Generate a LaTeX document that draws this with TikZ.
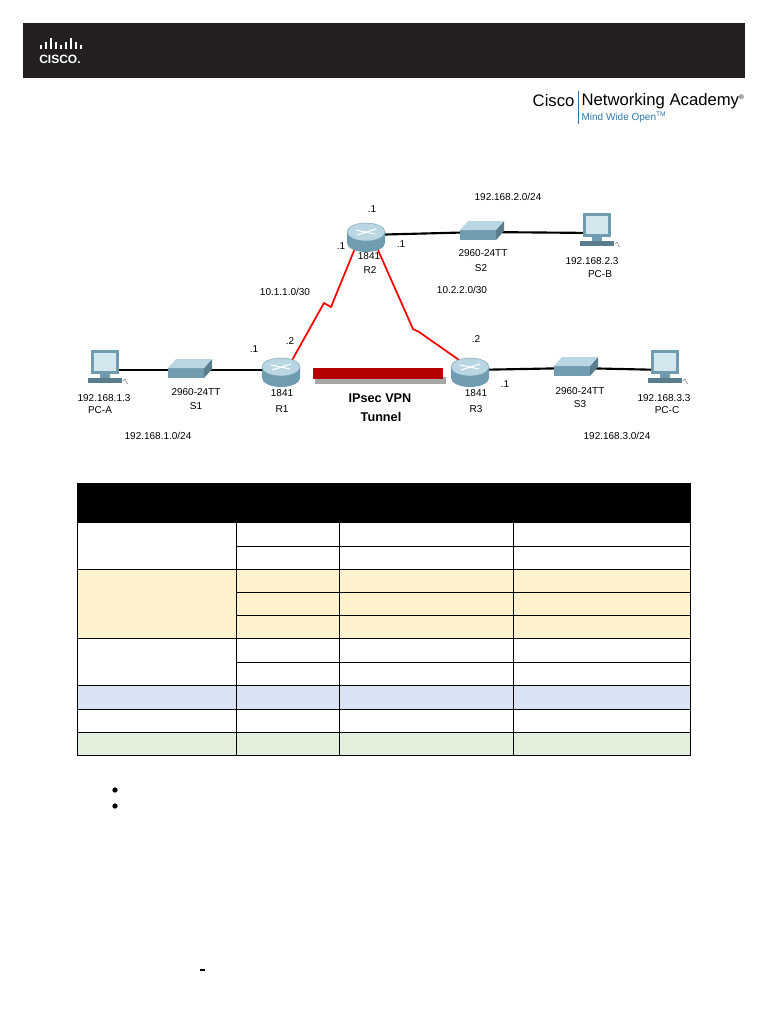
\documentclass[tikz,border=0pt]{standalone}
\usepackage{fontspec}
\setmainfont{Liberation Sans}
\usetikzlibrary{calc,shadows}
\definecolor{ylw}{HTML}{FFF2CC}
\definecolor{blu}{HTML}{DAE3F3}
\definecolor{grn}{HTML}{E2EFDA}
\definecolor{devtop}{HTML}{B9D6E2}
\definecolor{devside}{HTML}{6F9CB0}
\definecolor{vpn}{HTML}{B50000}
\definecolor{acad}{HTML}{2E75A8}
\definecolor{hdr}{HTML}{231F20}
\tikzset{
 lbl/.style={font=\fontsize{7.5}{8}\selectfont, inner sep=0.5pt},
 eth/.style={line width=1.6pt,black},
 ser/.style={line width=1.3pt,red},
 cell/.style={draw=black,line width=0.6pt},
 pics/router/.style={code={
   \fill[devside] (-19,-3) -- (-19,8) arc[start angle=180,end angle=0,x radius=19,y radius=9] -- (19,-3) -- cycle;
   \fill[devtop,draw=devside,line width=0.3pt] (0,-3) ellipse[x radius=19,y radius=9];
   \draw[white,line width=0.8pt] (-10,-5)--(9,-1) (-9,0)--(10,-6);
 }},
 pics/switch/.style={code={
   \fill[devside] (-22,-2) rectangle (14,8);
   \fill[devside!80!black] (14,-2) -- (22,-11) -- (22,-1) -- (14,8) -- cycle;
   \fill[devtop] (-22,-2) -- (-14,-11) -- (22,-11) -- (14,-2) -- cycle;
 }},
 pics/pc/.style={code={
   \fill[devside] (-14,-20) rectangle (14,4);
   \fill[devtop!60!white] (-11,-17) rectangle (11,1);
   \fill[devside] (-5,4) rectangle (5,8);
   \fill[devside!80!black] (-17,8) rectangle (17,13);
   \draw[gray] (18,11) .. controls (22,6) and (20,14) .. (23,14);
 }}
}
\begin{document}
\begin{tikzpicture}[x=0.75pt,y=-0.75pt]
\useasboundingbox (0,0) rectangle (768,1024);
% header
\fill[hdr] (23,23) rectangle (745,78);
\node[white,font=\bfseries\fontsize{9}{9}\selectfont,inner sep=0] (ciscotxt) at (60,59) {CISCO.};
\foreach \i/\h in {0/4,1/7,2/11,3/7,4/4,5/7,6/11,7/7,8/4}{\fill[white] (40+\i*5,49) rectangle ++(2,-\h);}
\node[anchor=east,font=\fontsize{12.5}{12}\selectfont,inner sep=1pt] (ciscoA) at (576,101) {Cisco};
\draw[acad,line width=0.6pt] (578,91) -- (578,124);
\node[anchor=west,font=\fontsize{12.5}{12}\selectfont,inner sep=1pt] (na) at (580,101) {Networking Academy\textsuperscript{\tiny\textregistered}};
\node[anchor=west,acad,font=\fontsize{7.5}{8}\selectfont,inner sep=1pt] (mwo) at (580,117) {Mind Wide Open\textsuperscript{\tiny TM}};
% coordinates
\coordinate (R2) at (366,235); \coordinate (R1) at (281,370); \coordinate (R3) at (470,370);
\coordinate (S2) at (482,232); \coordinate (S1) at (190,370); \coordinate (S3) at (576,368);
\coordinate (PB) at (597,233); \coordinate (PA) at (105,370); \coordinate (PC) at (665,370);
% links
\draw[eth] (R2) -- (S2) -- (PB);
\draw[eth] (PA) -- (S1) -- (R1);
\draw[eth] (R3) -- (S3) -- (PC);
\coordinate (z1) at (331,307); \coordinate (z2) at (324,303);
\draw[ser] ($(R2)+(-8,6)$) coordinate (r2a) -- (z1) -- (z2) -- ($(R1)+(10,-8)$) coordinate (r1a);
\coordinate (z3) at (419,332); \coordinate (z4) at (413,329);
\draw[ser] ($(R2)+(8,6)$) coordinate (r2b) -- (z4) -- (z3) -- ($(R3)+(-8,-8)$) coordinate (r3a);
% devices
\pic at (R2) {router}; \pic at (R1) {router}; \pic at (R3) {router};
\pic at (S2) {switch}; \pic at (S1) {switch}; \pic at (S3) {switch};
\pic at (PB) {pc}; \pic at (PA) {pc}; \pic at (PC) {pc};
% tunnel
\fill[black!35] (315,377) rectangle (446,384);
\fill[vpn] (313,368) rectangle (443,379);
\node[font=\bfseries\fontsize{9.5}{10}\selectfont] (ips) at (380,398) {IPsec VPN};
\node[font=\bfseries\fontsize{9.5}{10}\selectfont] (tun) at (381,417) {Tunnel};
% labels
\node[lbl] (a1) at (372,209) {.1};
\node[lbl] (a2) at (341,246) {.1};
\node[lbl] (a3) at (401,244) {.1};
\node[lbl] (a4) at (369,256) {1841};
\node[lbl] (a5) at (370,270) {R2};
\node[lbl] (a6) at (508,197) {192.168.2.0/24};
\node[lbl] (a7) at (483,253) {2960-24TT};
\node[lbl] (a8) at (481,268) {S2};
\node[lbl] (a9) at (592,261) {192.168.2.3};
\node[lbl] (a10) at (600,274) {PC-B};
\node[lbl] (a11) at (285,292) {10.1.1.0/30};
\node[lbl] (a12) at (462,290) {10.2.2.0/30};
\node[lbl] (b1) at (254,349) {.1};
\node[lbl] (b2) at (290,341) {.2};
\node[lbl] (b3) at (282,393) {1841};
\node[lbl] (b4) at (282,409) {R1};
\node[lbl] (b5) at (196,392) {2960-24TT};
\node[lbl] (b6) at (196,406) {S1};
\node[lbl] (b7) at (104,398) {192.168.1.3};
\node[lbl] (b8) at (100,410) {PC-A};
\node[lbl] (b9) at (158,436) {192.168.1.0/24};
\node[lbl] (c1) at (476,339) {.2};
\node[lbl] (c2) at (505,384) {.1};
\node[lbl] (c3) at (476,393) {1841};
\node[lbl] (c4) at (476,409) {R3};
\node[lbl] (c5) at (580,391) {2960-24TT};
\node[lbl] (c6) at (580,404) {S3};
\node[lbl] (c7) at (664,398) {192.168.3.3};
\node[lbl] (c8) at (667,410) {PC-C};
\node[lbl] (c9) at (617,436) {192.168.3.0/24};
% table
\fill[black] (77,483) rectangle (690,523);
\fill[ylw] (77,569) rectangle (690,638);
\fill[blu] (77,685) rectangle (690,709);
\fill[grn] (77,732) rectangle (690,755);
\draw[cell] (77,483) rectangle (690,755);
\foreach \y in {569,638,685,709,732}{\draw[cell] (77,\y) -- (690,\y);}
\foreach \y in {546,592,615,662}{\draw[cell] (236,\y) -- (690,\y);}
\foreach \x in {236,339,513}{\draw[cell] (\x,523) -- (\x,755);}
% bullets
\fill (115,790) circle (2pt); \fill (115,806) circle (2pt);
\draw[line width=0.8pt] (200,970) -- (205,970);
\end{tikzpicture}
\end{document}
